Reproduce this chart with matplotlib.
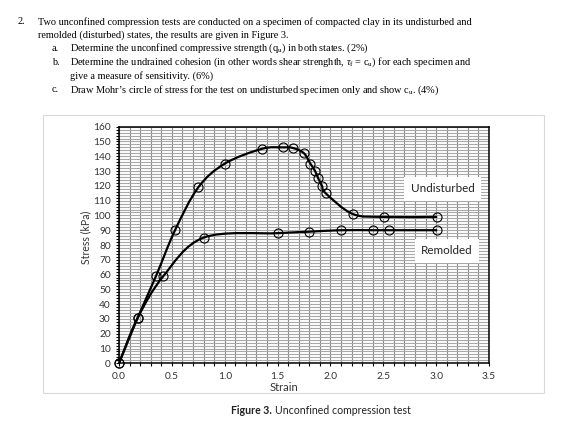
import numpy as np
import matplotlib
matplotlib.use("Agg")
import matplotlib.pyplot as plt
from matplotlib.path import Path
from matplotlib.patches import PathPatch, Rectangle
from matplotlib.ticker import MultipleLocator

plt.rcParams["mathtext.fontset"] = "custom"
plt.rcParams["mathtext.rm"] = "Liberation Serif"
plt.rcParams["mathtext.it"] = "Liberation Serif:italic"
plt.rcParams["mathtext.bf"] = "Liberation Serif:bold"

# data
strain_undisturbed = [0.0, 0.175, 0.35, 0.53, 0.75, 1.0, 1.35, 1.55, 1.65, 1.75,
                      1.81, 1.855, 1.885, 1.92, 1.955, 2.21, 2.51, 3.01]
stress_undisturbed = [0, 30.5, 59, 90, 119, 135, 145, 146, 145.5, 142,
                      135, 130, 125, 120, 115, 101, 99, 99]
strain_remolded = [0.0, 0.175, 0.42, 0.80, 1.5, 1.8, 2.1, 2.4, 2.55, 3.01]
stress_remolded = [0, 30.5, 59, 85, 88, 89, 90, 90, 90, 90]

header = [
    (18, 21.7, "2."),
    (38, 21.7, "Two unconfined compression tests are conducted on a specimen of compacted clay in its undisturbed and"),
    (38, 35.0, "remolded (disturbed) states, the results are given in Figure 3."),
    (52, 48.3, "a."),
    (70, 48.3, r"Determine the unconfined compressive strength (q$_\mathrm{u}$) in both states. (2%)"),
    (52, 62.7, "b."),
    (70, 62.7, r"Determine the undrained cohesion (in other words shear strenghth, $\tau_\mathrm{f}$ = c$_\mathrm{u}$) for each specimen and"),
    (70, 75.7, "give a measure of sensitivity. (6%)"),
    (52, 90.0, "c."),
    (70, 90.0, r"Draw Mohr’s circle of stress for the test on undisturbed specimen only and show c$_\mathrm{u}$. (4%)"),
]

W, H = 578, 428
fig = plt.figure(figsize=(W / 100, H / 100), dpi=100)
ax = fig.add_axes([119 / W, 1 - 363.3 / H, 370 / W, 236.6 / H])

for px, py, s in header:
    fig.text(px / W, 1 - py / H, s, family="Liberation Serif", fontsize=7.35,
             va="center", ha="left")

# chart frame
fig.patches.append(Rectangle((43 / W, 1 - 393 / H), 501 / W, 278 / H,
                             transform=fig.transFigure, fill=False,
                             edgecolor="#d9d9d9", lw=0.8))

ax.set_xlim(0, 3.5)
ax.set_ylim(0, 160)
ax.xaxis.set_major_locator(MultipleLocator(0.5))
ax.xaxis.set_minor_locator(MultipleLocator(0.1))
ax.yaxis.set_major_locator(MultipleLocator(10))
ax.yaxis.set_minor_locator(MultipleLocator(2))
ax.xaxis.set_major_formatter(lambda v, p: f"{v:.1f}")

ax.grid(axis="x", which="both", color="#8a8a8a", lw=0.8)
ax.grid(axis="y", which="both", color="#a8a8a8", lw=0.8)
ax.set_axisbelow(True)

for sp in ax.spines.values():
    sp.set_color("black")
    sp.set_linewidth(1.1)

ax.tick_params(which="both", direction="out", length=2.5, width=0.8, color="black")
ax.tick_params(axis="both", which="major", pad=3.5, labelsize=7.3, labelcolor="#333333")
for lab in ax.get_xticklabels() + ax.get_yticklabels():
    lab.set_family("Lato")

ax.set_ylabel("Stress (kPa)", family="Lato", fontsize=7.6, color="#333333")
ax.yaxis.set_label_coords(-0.076, 0.534)
ax.set_xlabel("Strain", family="Lato", fontsize=8, color="#333333")
ax.xaxis.set_label_coords(165 / 370, -0.078)


def smooth_line(xs, ys):
    # Excel-like smoothed line: cubic Bezier through the points, done in pixel space
    pts = ax.transData.transform(np.column_stack([xs, ys]))
    n = len(pts)
    verts = [pts[0]]
    codes = [Path.MOVETO]
    for i in range(n - 1):
        p0 = pts[max(i - 1, 0)]
        p1 = pts[i]
        p2 = pts[i + 1]
        p3 = pts[min(i + 2, n - 1)]
        verts += [p1 + (p2 - p0) / 6, p2 - (p3 - p1) / 6, p2]
        codes += [Path.CURVE4] * 3
    back = ax.transData.inverted().transform(np.array(verts))
    ax.add_patch(PathPatch(Path(back, codes), fill=False, lw=1.6,
                           edgecolor="black", zorder=3))


for xs, ys in [(strain_undisturbed, stress_undisturbed),
               (strain_remolded, stress_remolded)]:
    smooth_line(xs, ys)
    ax.plot(xs, ys, ls="none", marker="o", ms=6.5, mfc="none", mec="black",
            mew=0.8, zorder=4, clip_on=False)

box = dict(facecolor="white", edgecolor="none", pad=4.5)
ax.text(3.06, 118, "Undisturbed", family="Lato", fontsize=8.4, color="#222222",
        ha="center", va="center", bbox=box, zorder=5)
ax.text(3.10, 76, "Remolded", family="Lato", fontsize=8.4, color="#222222",
        ha="center", va="center", bbox=box, zorder=5)

renderer = fig.canvas.get_renderer()
cap = fig.text(231 / W, 1 - 411 / H, "Figure 3.", family="Lato", fontsize=7.6,
               weight="bold", ha="left", va="center", color="#222222")
cap_end = cap.get_window_extent(renderer=renderer).x1
fig.text(cap_end / (W * fig.dpi / 100) + 3 / W, 1 - 411 / H,
         "Unconfined compression test", family="Lato", fontsize=7.6,
         ha="left", va="center", color="#222222")

fig.savefig("out.png", dpi=100)
